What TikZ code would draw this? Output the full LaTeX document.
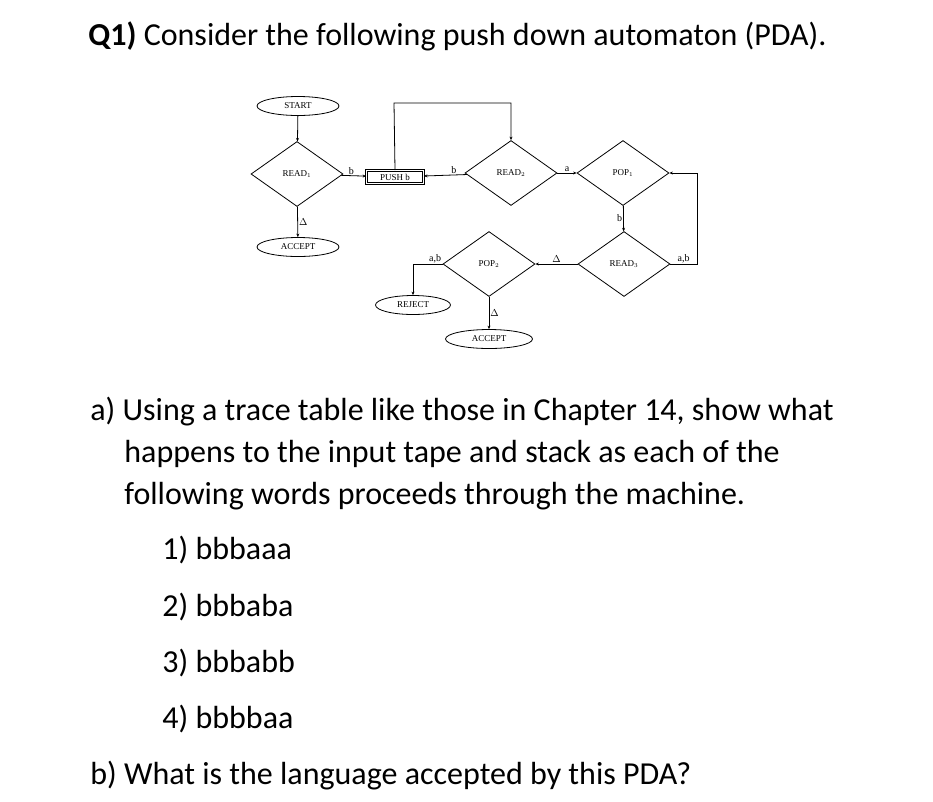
\documentclass[tikz,border=0pt]{standalone}
\usepackage{fontspec}
\setmainfont{Carlito}
\newfontfamily\tms{Liberation Serif}
\usetikzlibrary{shapes.geometric,arrows.meta}
\begin{document}
\begin{tikzpicture}[x=1pt,y=-1pt,line width=0.8pt,
  dia/.style={draw,diamond,aspect=1.43,minimum width=92pt,minimum height=65pt,inner sep=0pt,font=\tms\fontsize{9}{10}\selectfont},
  ell/.style={draw,ellipse,minimum width=82pt,minimum height=19pt,inner sep=0pt,font=\tms\fontsize{9}{10}\selectfont},
  box/.style={draw,line width=0.8pt,double,double distance=1pt,minimum width=57pt,minimum height=13pt,inner sep=0pt,font=\tms\fontsize{9}{10}\selectfont},
  lab/.style={font=\tms\fontsize{10}{11}\selectfont,inner sep=1pt},
  arr/.style={-{Stealth[length=3.5pt,width=3pt]},line width=0.8pt},
  txt/.style={anchor=base west,inner sep=0pt,font=\fontsize{32}{36}\selectfont}]
\useasboundingbox (0,0) rectangle (933,801);
\node[txt] (t) at (88,45) {\textbf{Q1)} Consider the following push down automaton (PDA).};
\node[ell] (start) at (298,106) {START};
\node[dia] (r1) at (297,174) {READ$_1$};
\node[box] (push) at (395,177) {PUSH b};
\node[dia] (r2) at (511,173) {READ$_2$};
\node[dia] (p1) at (623,173) {POP$_1$};
\node[dia] (r3) at (624,264) {READ$_3$};
\node[dia] (p2) at (489,264) {POP$_2$};
\node[ell] (acc1) at (298,247) {ACCEPT};
\node[ell,minimum width=75pt] (rej) at (413,305) {REJECT};
\node[ell,minimum width=87pt] (acc2) at (489,339) {ACCEPT};
\draw[arr] (start) -- (r1);
\draw[arr] (r1) -- node[lab,above,pos=0.4]{b} (push);
\draw[arr] (r1) -- node[lab,right]{$\Delta$} (acc1);
\draw[arr] (r2) -- node[lab,above,pos=0.3]{b} (push);
\draw[arr] (push.north) -- (394,103) -- (511,103) -- (r2.north);
\draw[arr] (r2) -- node[lab,above]{a} (p1);
\draw[arr] (p1) -- node[lab,left]{b} (r3);
\coordinate (c1) at (697,173);
\coordinate (c2) at (697,264);
\draw[arr] (r3.east) -- node[lab,above]{a,b} (c2) -- (c1) -- (p1.east);
\draw[arr] (r3) -- node[lab,above]{$\Delta$} (p2);
\coordinate (c3) at (413,264);
\draw[arr] (p2.west) -- node[lab,above,pos=0.25]{a,b} (c3) -- (rej);
\draw[arr] (p2) -- node[lab,right]{$\Delta$} (acc2);
\node[txt] (a1) at (90,420) {a) Using a trace table like those in Chapter 14, show what};
\node[txt] (a2) at (124,462) {happens to the input tape and stack as each of the};
\node[txt] (a3) at (124,504) {following words proceeds through the machine.};
\node[txt] (w1) at (162,559) {1) bbbaaa};
\node[txt] (w2) at (162,616) {2) bbbaba};
\node[txt] (w3) at (162,672) {3) bbbabb};
\node[txt] (w4) at (162,728) {4) bbbbaa};
\node[txt] (b1) at (90,784) {b) What is the language accepted by this PDA?};
\end{tikzpicture}
\end{document}
